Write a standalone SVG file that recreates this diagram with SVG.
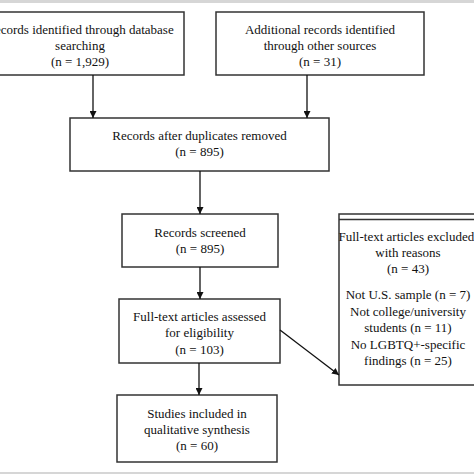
<svg xmlns="http://www.w3.org/2000/svg" width="474" height="474" viewBox="0 0 474 474">
<defs>
<marker id="ah" viewBox="0 0 10 10" refX="10" refY="5" markerWidth="7" markerHeight="7" markerUnits="userSpaceOnUse" orient="auto">
<path d="M0,0 L10,5 L0,10 z" fill="#111"/>
</marker>
<style>
.box{fill:#fff;stroke:#333;stroke-width:1.5}
.t{font-family:"Liberation Serif","Times New Roman",serif;font-size:13px;fill:#111;text-anchor:middle}
.c{stroke:#111;stroke-width:1.3;fill:none;marker-end:url(#ah)}
</style>
</defs>
<rect x="0" y="0" width="474" height="474" fill="#fff"/>
<rect x="0" y="0" width="474" height="3" fill="#d6d6d6"/>
<rect x="0" y="472" width="474" height="2" fill="#d6d6d6"/>

<g id="db">
<rect class="box" x="-24" y="12" width="208" height="63"/>
<text class="t" x="80" y="34">Records identified through database</text>
<text class="t" x="80" y="50">searching</text>
<text class="t" x="80" y="66">(n = 1,929)</text>
</g>
<g id="other">
<rect class="box" x="216" y="12" width="208" height="63"/>
<text class="t" x="320" y="34">Additional records identified</text>
<text class="t" x="320" y="50">through other sources</text>
<text class="t" x="320" y="66">(n = 31)</text>
</g>
<g id="dups">
<rect class="box" x="70" y="118" width="259" height="53"/>
<text class="t" x="199.5" y="139.5">Records after duplicates removed</text>
<text class="t" x="199.5" y="156">(n = 895)</text>
</g>
<g id="screened">
<rect class="box" x="122" y="214" width="156" height="53"/>
<text class="t" x="200" y="236.5">Records screened</text>
<text class="t" x="200" y="252.5">(n = 895)</text>
</g>
<g id="assessed">
<rect class="box" x="119" y="299" width="161" height="64"/>
<text class="t" x="199.5" y="321">Full-text articles assessed</text>
<text class="t" x="199.5" y="337">for eligibility</text>
<text class="t" x="199.5" y="353.5">(n = 103)</text>
</g>
<g id="included">
<rect class="box" x="117" y="395" width="160" height="67"/>
<text class="t" x="197" y="417.5">Studies included in</text>
<text class="t" x="197" y="434">qualitative synthesis</text>
<text class="t" x="197" y="450">(n = 60)</text>
</g>
<g id="excluded">
<rect class="box" x="339" y="214" width="160" height="171"/>
<line x1="339" y1="219.5" x2="474" y2="219.5" stroke="#333" stroke-width="1.3"/>
<text class="t" x="408" y="241">Full-text articles excluded,</text>
<text class="t" x="408" y="257">with reasons</text>
<text class="t" x="408" y="273">(n = 43)</text>
<text class="t" x="408" y="299">Not U.S. sample (n = 7)</text>
<text class="t" x="408" y="315.5">Not college/university</text>
<text class="t" x="408" y="332">students (n = 11)</text>
<text class="t" x="408" y="348.5">No LGBTQ+-specific</text>
<text class="t" x="408" y="365">findings (n = 25)</text>
</g>
<g id="connectors">
<line class="c" x1="93" y1="75" x2="93" y2="118"/>
<line class="c" x1="307" y1="75" x2="307" y2="118"/>
<line class="c" x1="200" y1="171" x2="200" y2="214"/>
<line class="c" x1="200" y1="267" x2="200" y2="299"/>
<line class="c" x1="199" y1="363" x2="199" y2="395"/>
<line class="c" x1="280" y1="330" x2="339" y2="375"/>
</g>
</svg>
